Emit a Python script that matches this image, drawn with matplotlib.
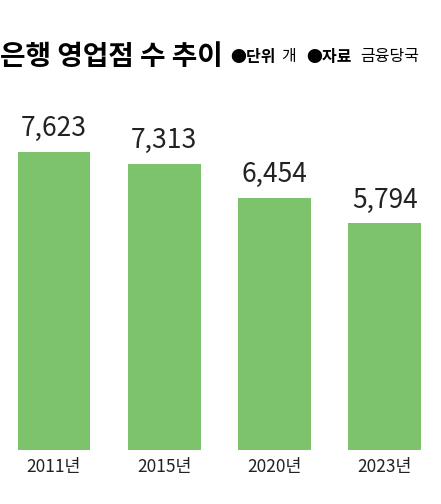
import matplotlib
matplotlib.use("Agg")
import matplotlib.pyplot as plt

years = ["2011년", "2015년", "2020년", "2023년"]
values = [7623, 7313, 6454, 5794]

plt.rcParams['font.family'] = ['Noto Sans CJK KR', 'DejaVu Sans']
fig = plt.figure(figsize=(4.41, 5.04), dpi=100)
H = 504
W = 441
ax = fig.add_axes([0, (H - 450) / H, 1, (450 - 80) / H])
x = range(len(values))
ax.bar(x, values, width=0.66, color="#7dc36b")
ax.set_xlim(-0.49, 3.51)
ax.set_ylim(0, 370 / (298 / 7623))
for i, v in zip(x, values):
    ax.text(i, v + 250, f"{v:,}", ha="center", va="bottom", fontsize=19, color="#222222")
ax.set_xticks(list(x))
ax.set_xticklabels(years, fontsize=12.5, color="#222222")
ax.tick_params(length=0, pad=6)
ax.set_yticks([])
for s in ax.spines.values():
    s.set_visible(False)

yt = 1 - 57 / H
fig.text(0.0, yt, "은행 영업점 수 추이", fontsize=20, fontweight="bold", va="center", ha="left")
fig.text(230 / W, yt, "●단위", fontsize=11.5, fontweight="bold", va="center", ha="left")
fig.text(281 / W, yt, "개", fontsize=11.5, va="center", ha="left")
fig.text(306 / W, yt, "●자료", fontsize=11.5, fontweight="bold", va="center", ha="left")
fig.text(360 / W, yt, "금융당국", fontsize=11.5, va="center", ha="left")
fig.savefig("out.png", dpi=100)
